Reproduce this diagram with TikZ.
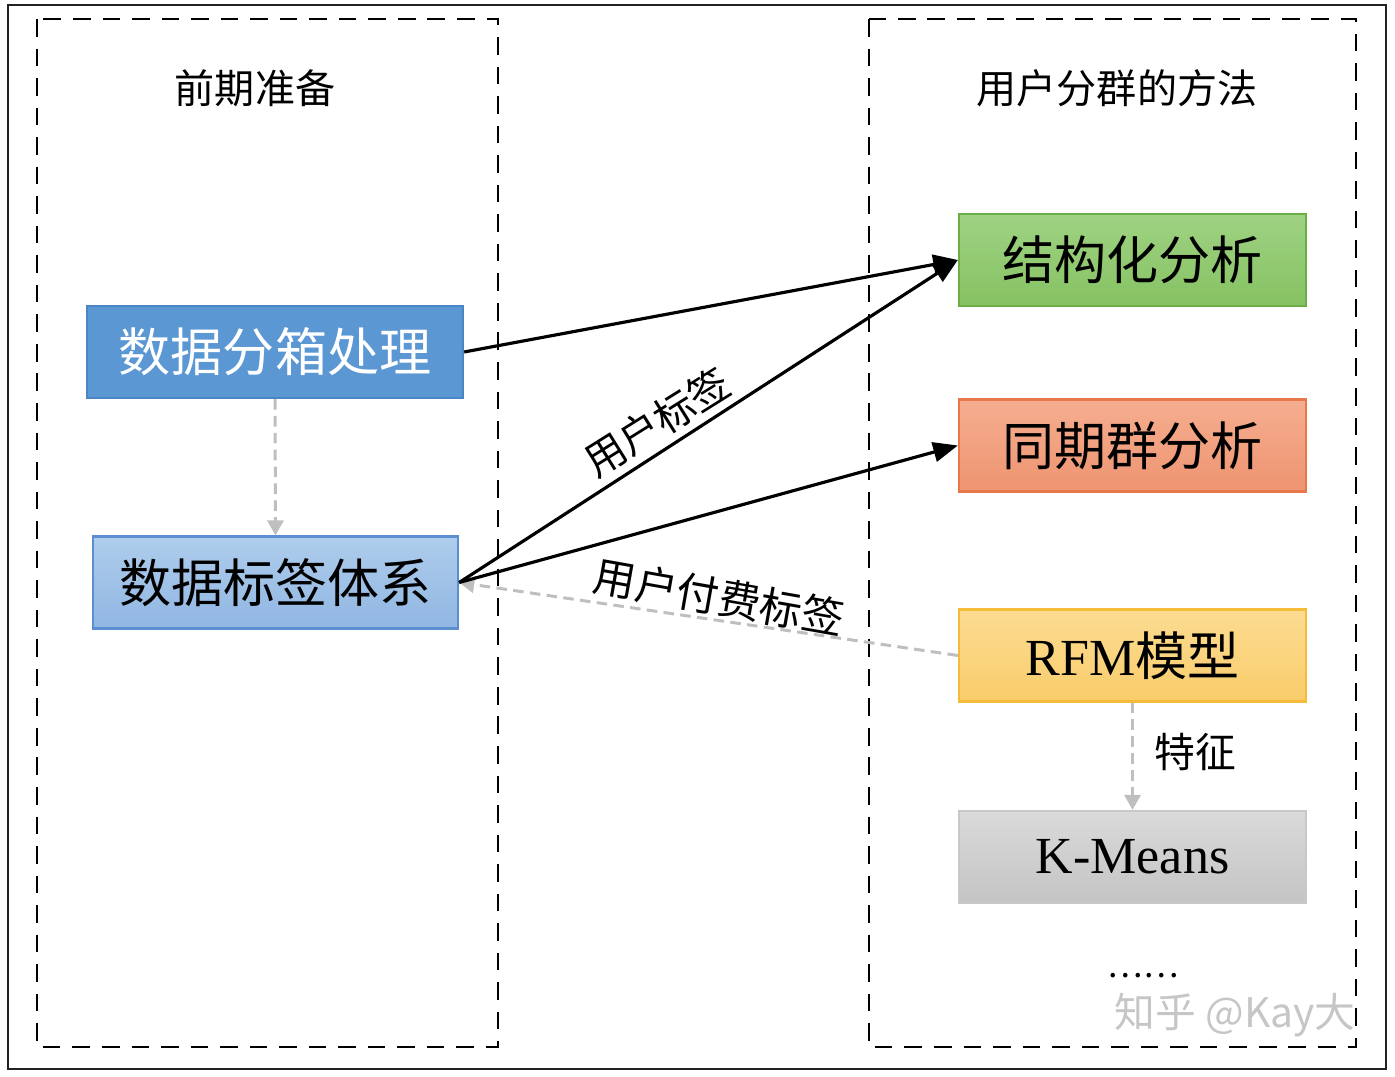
\documentclass[tikz,border=0pt]{standalone}
\usepackage{fontspec}
\setmainfont{Liberation Serif}
\newfontfamily\cjk{Noto Sans CJK SC}
\usetikzlibrary{arrows.meta}
\definecolor{bOneFill}{HTML}{5B97D3}
\definecolor{bOneDraw}{HTML}{4A86C5}
\definecolor{bTwoTop}{HTML}{AFCDEC}
\definecolor{bTwoBot}{HTML}{90B6E2}
\definecolor{bTwoDraw}{HTML}{5B8FD0}
\definecolor{gTop}{HTML}{9FD283}
\definecolor{gBot}{HTML}{86C262}
\definecolor{gDraw}{HTML}{6AAE45}
\definecolor{oTop}{HTML}{F5AE90}
\definecolor{oBot}{HTML}{EE9470}
\definecolor{oDraw}{HTML}{E6784A}
\definecolor{yTop}{HTML}{FCDC92}
\definecolor{yBot}{HTML}{F9CC6A}
\definecolor{yDraw}{HTML}{F5BC3A}
\definecolor{kTop}{HTML}{DADADA}
\definecolor{kBot}{HTML}{C4C4C4}
\definecolor{kDraw}{HTML}{C8C8C8}
\definecolor{lineGray}{HTML}{BFBFBF}
\definecolor{frameCol}{HTML}{222222}
\tikzset{
  boxbase/.style={rectangle, line width=0.6pt, inner sep=0pt},
  leftbox/.style={boxbase, minimum height=0.92cm},
  rightbox/.style={boxbase, minimum width=3.47cm, minimum height=0.92cm},
  boxtext/.style={font=\fontsize{14.8pt}{16pt}\selectfont},
  titletext/.style={font=\cjk\fontsize{11.4pt}{13pt}\selectfont},
  labeltext/.style={font=\cjk\fontsize{11.6pt}{13pt}\selectfont, inner sep=0pt},
  groupbox/.style={draw=black, line width=0.6pt, dash pattern=on 5pt off 3.4pt},
  blackarrow/.style={draw=black, line width=0.9pt, -{Triangle[length=7pt,width=5.6pt]}},
  grayarrow/.style={draw=lineGray, line width=0.85pt, dash pattern=on 3pt off 1.8pt, -{Triangle[length=4.3pt,width=4.6pt]}}
}
\begin{document}
\begin{tikzpicture}[x=0.01cm, y=-0.01cm]
\useasboundingbox (0,0) rectangle (1395,1077);
% outer frame
\draw[frameCol, line width=0.75pt] (8,5) rectangle (1386,1069);
% group boxes
\draw[groupbox] (37,19) rectangle (498,1047);
\draw[groupbox] (869,19) rectangle (1356,1047);
% titles
\node[titletext] (t1) at (255,88) {前期准备};
\node[titletext] (t2) at (1117,88) {用户分群的方法};
% left boxes
\node[leftbox, minimum width=3.76cm, fill=bOneFill, draw=bOneDraw, boxtext, text=white] (b1) at (275,352) {\cjk 数据分箱处理};
\node[leftbox, minimum width=3.65cm, top color=bTwoTop, bottom color=bTwoBot, draw=bTwoDraw, boxtext, text=black] (b2) at (275.5,582.5) {\cjk 数据标签体系};
% right boxes
\node[rightbox, top color=gTop, bottom color=gBot, draw=gDraw, boxtext] (r1) at (1132.5,260) {\cjk 结构化分析};
\node[rightbox, top color=oTop, bottom color=oBot, draw=oDraw, boxtext] (r2) at (1132.5,445.5) {\cjk 同期群分析};
\node[rightbox, top color=yTop, bottom color=yBot, draw=yDraw, boxtext] (r3) at (1132.5,655.5) {RFM{\cjk 模型}};
\node[rightbox, top color=kTop, bottom color=kBot, draw=kDraw, boxtext] (r4) at (1132.5,857) {K-Means};
% connectors
\draw[grayarrow] (b1.south) -- (b2.north);
\draw[grayarrow] (r3.south) -- (r4.north);
\draw[grayarrow] (r3.west) -- (b2.east);
\draw[blackarrow] (b1.east) -- (r1.west);
\draw[blackarrow] (b2.east) -- (r1.west);
\draw[blackarrow] (b2.east) -- (r2.west);
% labels
\node[labeltext, rotate=32] (l1) at (657,422) {用户标签};
\node[labeltext, rotate=-10, font=\cjk\fontsize{12pt}{13pt}\selectfont] (l2) at (719,597) {用户付费标签};
\node[labeltext] (l3) at (1195,752) {特征};
\node[labeltext, font=\cjk\fontsize{9.5pt}{12pt}\selectfont] (dots) at (1143,976) {……};
\node[labeltext, text=gray!45] (wm) at (1235,1015) {知乎 @Kay大};
\end{tikzpicture}
\end{document}
